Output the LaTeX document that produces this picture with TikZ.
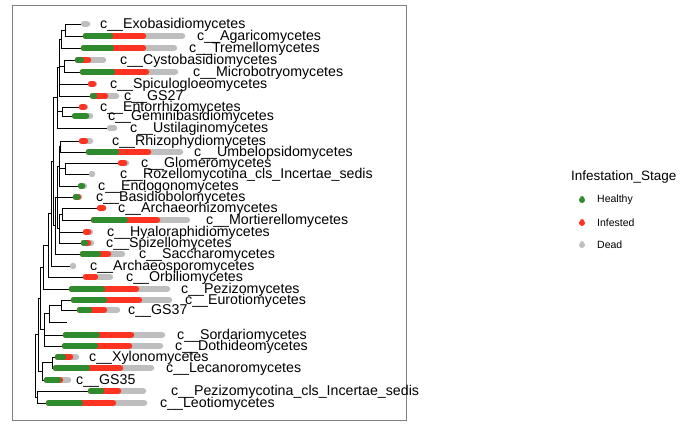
\documentclass[tikz,border=0pt]{standalone}
\usepackage{fontspec}
\setmainfont{Liberation Sans}
\definecolor{hgreen}{HTML}{2E8B2E}
\definecolor{ired}{HTML}{FF3322}
\definecolor{dgray}{HTML}{BEBEBE}
\begin{document}
\begin{tikzpicture}[x=1pt,y=-1pt,
  br/.style={line width=0.8pt,black},
  seg/.style={line width=6.5pt,line cap=round},
  lab/.style={anchor=west,inner sep=0pt,font=\fontsize{14.2}{16}\selectfont},
  leg/.style={anchor=west,inner sep=0pt,font=\fontsize{10.5}{12}\selectfont}]
\useasboundingbox (0,0) rectangle (700,432);
\draw[gray,line width=0.7pt] (12,5) rectangle (406,420);
% tips
\foreach \n/\x/\y in {Exo/82/24,Aga/83/36,Tre/81/48,Cys/76/60,Mic/80/72,Spi/90/84,GSb/91/96,Ent/81/107,Gem/72/116,Ust/108/128,
 Rhi/80/141,Umb/86/152,Glo/120/163,Roz/91/174,End/80/186,Bas/75/197,Arz/99/208,Mor/91/220,Hya/85/232,Spz/83/243,
 Sac/80/254,Asp/72/266,Orb/84/277,Pez/69/289,Eur/71/300,GSc/77/310,Blk/67/322,Sor/63/335,Dot/62/346,Xyl/55/357,
 Lec/53/368,GSa/44/380,Pzi/88/391,Leo/46/403}
  \coordinate (\n) at (\x,\y);
% internal nodes
\coordinate (A1) at (65,30); \coordinate (A2) at (61,39); \coordinate (A3) at (64,66);
\coordinate (A4) at (59,67); \coordinate (A5) at (62,111); \coordinate (A6) at (57,97);
\coordinate (B1) at (60,146); \coordinate (B2) at (65,168); \coordinate (B3) at (59,166);
\coordinate (B4) at (62,214); \coordinate (B5) at (59,228); \coordinate (B6) at (57,197);
\coordinate (B7) at (55,225); \coordinate (C0) at (53,161); \coordinate (C1) at (51,213);
\coordinate (C2) at (48,245); \coordinate (C3) at (43,267); \coordinate (D1) at (61,305);
\coordinate (D2) at (49,313); \coordinate (D3) at (44,329); \coordinate (C4) at (40,298);
\coordinate (E1) at (52,362); \coordinate (E2) at (42,371); \coordinate (E3) at (38,334);
\coordinate (F1) at (37,397); \coordinate (R) at (35,365);
\foreach \p/\c in {A1/Exo,A1/Aga,A2/A1,A2/Tre,A3/Cys,A3/Mic,A4/A2,A4/A3,A4/Spi,A4/GSb,A5/Ent,A5/Gem,
 A6/A4,A6/A5,A6/Ust,B1/Rhi,B1/Umb,B2/Glo,B2/Roz,B3/B1,B3/B2,B3/End,B4/Arz,B4/Mor,B5/B4,B5/Hya,B5/Spz,
 B6/B3,B6/Bas,B6/B5,B7/B6,B7/Sac,C0/A6,C0/B7,C1/C0,C1/Asp,C2/C1,C2/Orb,C3/C2,C3/Pez,D1/Eur,D1/GSc,
 D2/D1,D2/Blk,D3/D2,D3/Sor,D3/Dot,C4/C3,C4/D3,E1/Xyl,E1/Lec,E2/E1,E2/GSa,E3/C4,E3/E2,F1/Pzi,F1/Leo,R/E3,R/F1}
  \draw[br] (\p) |- (\c);
% bars: y, start, green end, red end, gray end
\foreach \y/\s/\g/\r/\e in {24/84/84/84/87, 36/86/110/143/182, 48/84/111/143/174, 60/78/81/88/103, 72/83/112/146/175,
 84/91/91/93/94, 96/93/94/105/116, 107/82/82/84/85, 116/75/86/86/90, 128/110/110/110/114,
 141/82/82/85/90, 152/89/116/148/180, 163/121/121/124/126, 174/92/92/92/92, 186/81/82/82/84,
 197/76/77/78/79, 208/100/100/103/103, 220/94/125/157/187, 232/86/86/88/90, 243/84/85/88/91,
 254/83/98/108/122, 266/73/73/73/73, 277/86/86/95/110, 289/72/102/136/167, 300/74/104/139/169,
 310/80/89/104/117, 335/66/97/131/162, 346/65/95/129/160, 357/58/63/70/76, 368/56/87/120/151,
 380/47/58/60/68, 391/91/101/118/143, 403/49/80/113/144}{
  \draw[seg,dgray] (\s,\y) -- (\e,\y);
  \ifdim\r pt>\g pt \draw[seg,ired] (\s,\y) -- (\r,\y); \fi
  \ifdim\g pt>\s pt \draw[seg,hgreen] (\s,\y) -- (\g,\y); \fi
}
% labels
\foreach \n/\x/\y/\t in {l1/100/24/Exobasidiomycetes,l2/197/36/Agaricomycetes,l3/189/48/Tremellomycetes,
 l4/120/60/Cystobasidiomycetes,l5/193/72/Microbotryomycetes,l6/110/84/Spiculogloeomycetes,l7/124/96/GS27,
 l8/100/107/Entorrhizomycetes,l9/108/116/Geminibasidiomycetes,l10/130/128/Ustilaginomycetes,
 l11/112/141/Rhizophydiomycetes,l12/194/152/Umbelopsidomycetes,l13/141/163/Glomeromycetes,
 l14/120/174/Rozellomycotina\_cls\_Incertae\_sedis,l15/98/186/Endogonomycetes,l16/96/197/Basidiobolomycetes,
 l17/118/208/Archaeorhizomycetes,l18/206/220/Mortierellomycetes,l19/107/232/Hyaloraphidiomycetes,
 l20/106/243/Spizellomycetes,l21/139/254/Saccharomycetes,l22/90/266/Archaeosporomycetes,
 l23/126/277/Orbiliomycetes,l24/181/289/Pezizomycetes,l25/185/300/Eurotiomycetes,l26/128/310/GS37,
 l27/177/335/Sordariomycetes,l28/175/346/Dothideomycetes,l29/89/357/Xylonomycetes,l30/166/368/Lecanoromycetes,
 l31/76/380/GS35,l32/171/391/Pezizomycotina\_cls\_Incertae\_sedis,l33/160/403/Leotiomycetes}
  \node[lab] (\n) at (\x,\y+1) {c\_\_\t};
% legend
\node[anchor=west,inner sep=0pt,font=\fontsize{13.5}{15}\selectfont] (lt) at (571,177) {Infestation\_Stage};
\foreach \n/\y/\c/\t in {k1/200/hgreen/Healthy,k2/223/ired/Infested,k3/245/dgray/Dead}{
  \fill[\c] (582,\y) circle (3pt);
  \node[inner sep=0pt,text=\c,font=\bfseries\fontsize{9}{10}\selectfont] (\n i) at (582,\y-1) {a};
  \node[leg] (\n) at (597,\y) {\t};
}
\end{tikzpicture}
\end{document}
